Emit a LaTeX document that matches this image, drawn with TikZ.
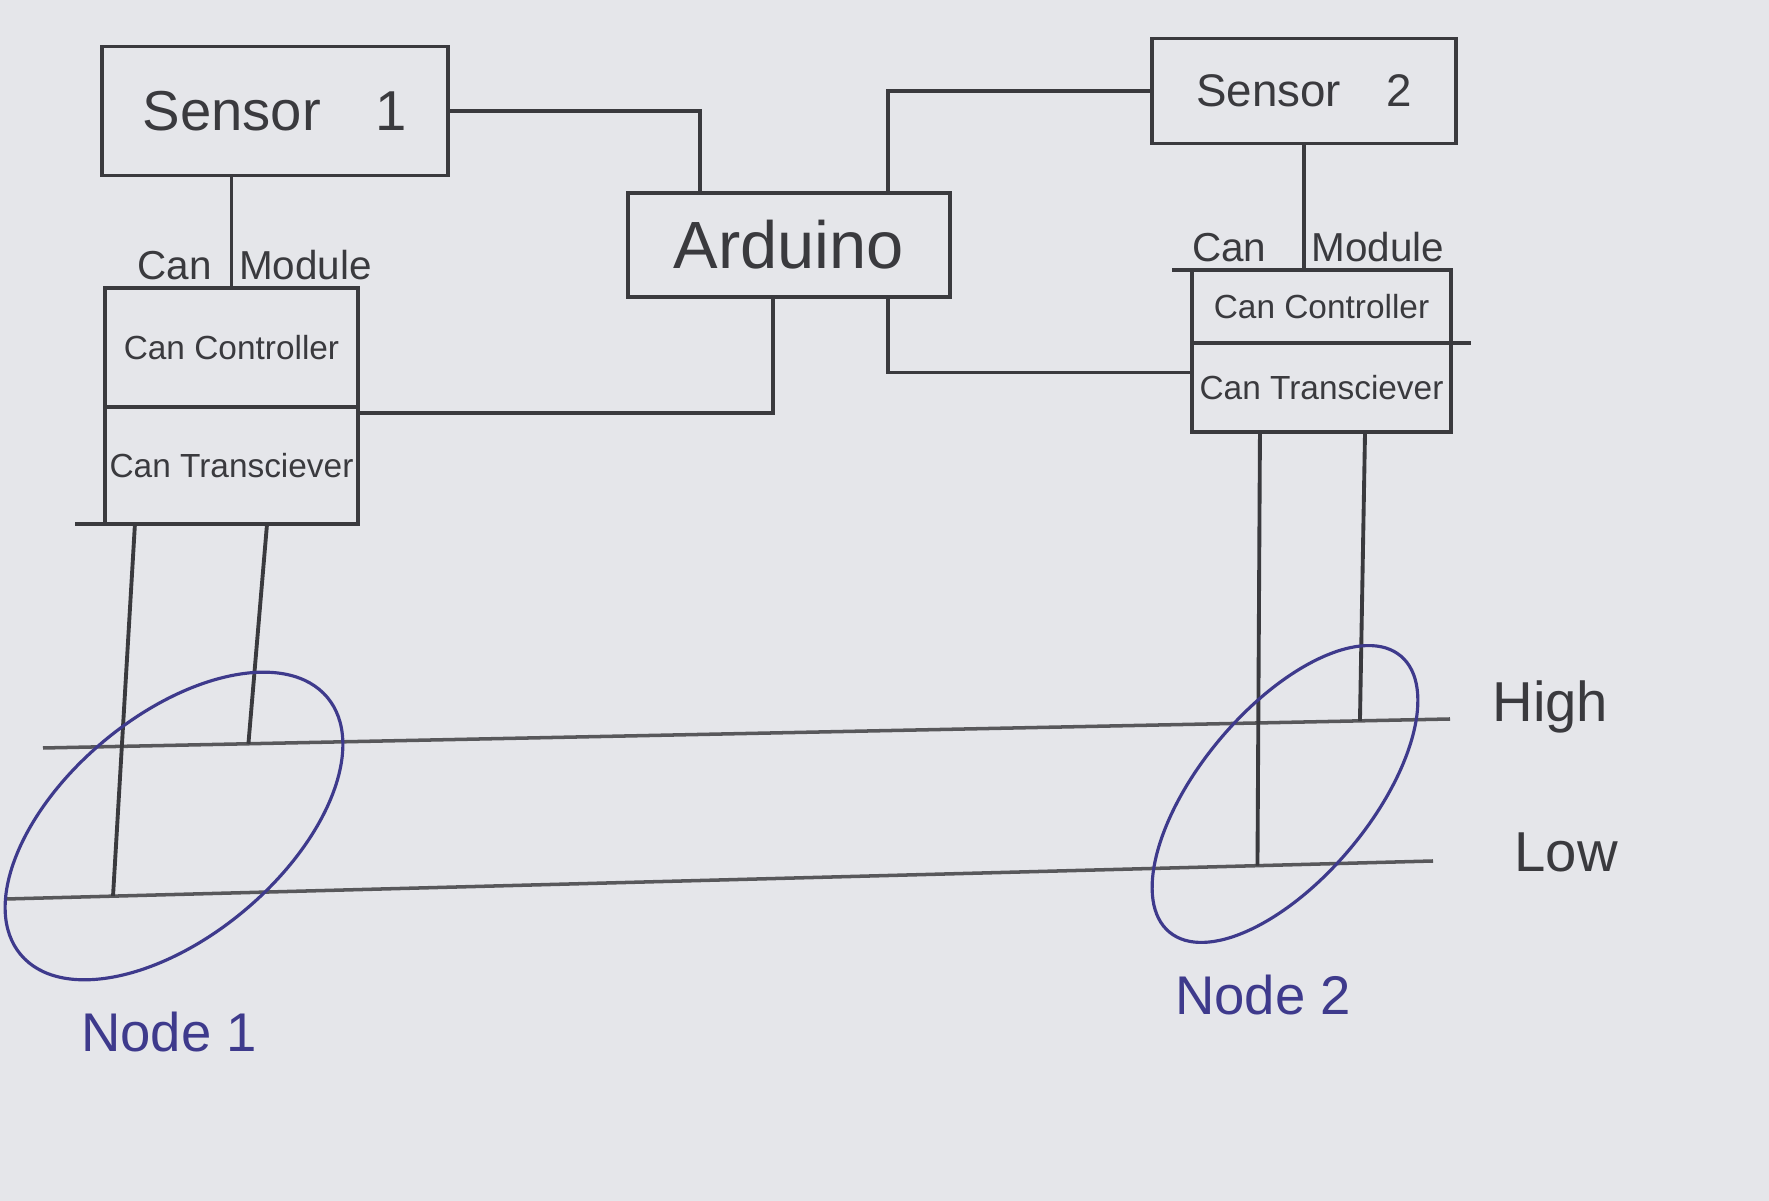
\documentclass[tikz,border=0pt]{standalone}
\usepackage{fontspec}
\setmainfont{Liberation Sans}
\usetikzlibrary{positioning,calc}
\definecolor{pencil}{RGB}{58,58,62}
\definecolor{inkblue}{RGB}{62,58,140}
\definecolor{paper}{RGB}{229,230,234}

\begin{document}
\begin{tikzpicture}[x=0.01cm,y=-0.01cm,
  box/.style={draw=pencil,line width=1.1pt,inner sep=0pt,outer sep=0pt,text=pencil},
  wire/.style={draw=pencil,line width=1.1pt},
  bus/.style={draw=pencil!85,line width=1pt},
  ring/.style={draw=inkblue,line width=0.9pt},
  partlabel/.style={font=\fontsize{9.5}{11}\selectfont},
  modlabel/.style={text=pencil,font=\fontsize{11.5}{13}\selectfont,inner sep=2pt},
  buslabel/.style={text=pencil,font=\fontsize{16}{18}\selectfont},
  nodelabel/.style={text=inkblue,font=\fontsize{15.5}{18}\selectfont}]

% Paper
\fill[paper] (0,0) rectangle (1769,1201);
\useasboundingbox (0,0) rectangle (1769,1201);

% Sensors and Arduino
\node[box,minimum width=3.46cm,minimum height=1.29cm,font=\fontsize{16}{18}\selectfont] (sen1) at (275,111) {Sensor\hspace{0.55cm}1};
\node[box,minimum width=3.22cm,minimum height=1.04cm,font=\fontsize{19}{22}\selectfont] (ard) at (789,245) {Arduino};
\node[box,minimum width=3.04cm,minimum height=1.05cm,font=\fontsize{13}{15}\selectfont] (sen2) at (1304,91) {Sensor\hspace{0.45cm}2};

% CAN module 1
\node[box,minimum width=2.53cm,minimum height=1.19cm,partlabel] (ctrl1) at (231.5,347.5) {Can Controller};
\node[box,minimum width=2.53cm,minimum height=1.17cm,partlabel,below=0pt of ctrl1] (trx1) {Can Transciever};

% CAN module 2
\node[box,minimum width=2.59cm,minimum height=0.73cm,partlabel] (ctrl2) at (1321.5,306.5) {Can Controller};
\node[box,minimum width=2.59cm,minimum height=0.89cm,partlabel,below=0pt of ctrl2] (trx2) {Can Transciever};

% overshooting strokes
\draw[wire] (trx1.south west) -- ++(-0.3cm,0);
\draw[wire] (ctrl2.north west) -- ++(-0.2cm,0);
\draw[wire] (ctrl2.south east) -- ++(0.2cm,0);

% sensor to module
\draw[wire] (sen1.south -| ctrl1.north) -- (ctrl1.north);
\node[modlabel,anchor=south east] at ([xshift=-0.12cm]ctrl1.north) {Can};
\node[modlabel,anchor=south west] at (ctrl1.north) {Module};

\draw[wire] (sen2.south) -- (sen2.south |- ctrl2.north);
\node[modlabel,anchor=south east] at ([xshift=-0.3cm]sen2.south |- ctrl2.north) {Can};
\node[modlabel,anchor=south west] at (sen2.south |- ctrl2.north) {Module};

% Arduino wiring
\draw[wire] (sen1.east) -| ([xshift=0.72cm]ard.north west);
\draw[wire] ([xshift=2.6cm]ard.north west) |- (sen2.west);
\draw[wire] ([xshift=1.45cm]ard.south west) |- ([yshift=-0.06cm]trx1.north east);
\draw[wire] ([xshift=2.6cm]ard.south west) |- ([yshift=0.15cm]trx2.west);

% Bus
\coordinate (hiL) at (43,748);
\coordinate (hiR) at (1450,719);
\coordinate (loL) at (6,899);
\coordinate (loR) at (1433,861);
\draw[bus] (hiL) -- (hiR);
\draw[bus] (loL) -- (loR);
\node[buslabel,anchor=west] (high) at (1480,707) {High};
\node[buslabel,anchor=west] (low) at (1502,852) {Low};

% Stubs to the bus
\draw[wire] ([xshift=0.3cm]trx1.south west) -- ($(loL)!0.075!(loR)$);
\draw[wire] ([xshift=1.62cm]trx1.south west) -- ($(hiL)!0.146!(hiR)$);
\draw[wire] ([xshift=0.68cm]trx2.south west) -- ($(loL)!0.877!(loR)$);
\draw[wire] ([xshift=1.73cm]trx2.south west) -- ($(hiL)!0.936!(hiR)$);

% Nodes
\draw[ring] (174,826) ellipse [x radius=2cm,y radius=1.1cm,rotate=40];
\draw[ring] (1285,794) ellipse [x radius=1.8cm,y radius=0.85cm,rotate=50];
\node[nodelabel] (lbl1) at (169,1032) {Node 1};
\node[nodelabel] (lbl2) at (1263,995) {Node 2};

\end{tikzpicture}
\end{document}
